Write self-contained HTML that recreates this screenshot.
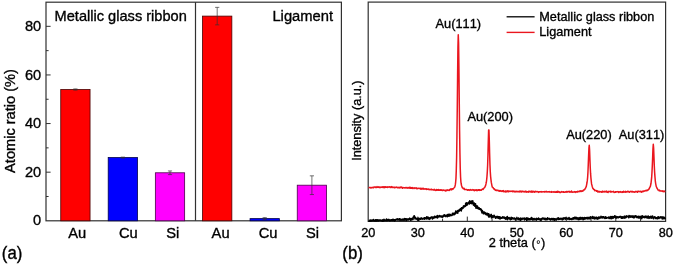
<!DOCTYPE html>
<html><head><meta charset="utf-8"><title>Figure</title>
<style>html,body{margin:0;padding:0;background:#fff}svg{display:block}text{font-family:"Liberation Sans", sans-serif;stroke:#000;stroke-width:0.34px;font-kerning:none}</style>
</head><body>
<svg width="675" height="265" viewBox="0 0 675 265" font-family='"Liberation Sans", sans-serif' fill="#000">
<rect x="46.0" y="2.2" width="295.4" height="218.60000000000002" fill="none" stroke="#303030" stroke-width="1.2"/>
<line x1="195.5" y1="2.2" x2="195.5" y2="220.8" stroke="#303030" stroke-width="1.2"/>
<line x1="46.0" y1="196.49" x2="48.6" y2="196.49" stroke="#303030" stroke-width="1"/>
<line x1="46.0" y1="172.18" x2="50.6" y2="172.18" stroke="#303030" stroke-width="1"/>
<line x1="46.0" y1="147.87" x2="48.6" y2="147.87" stroke="#303030" stroke-width="1"/>
<line x1="46.0" y1="123.56" x2="50.6" y2="123.56" stroke="#303030" stroke-width="1"/>
<line x1="46.0" y1="99.25" x2="48.6" y2="99.25" stroke="#303030" stroke-width="1"/>
<line x1="46.0" y1="74.94" x2="50.6" y2="74.94" stroke="#303030" stroke-width="1"/>
<line x1="46.0" y1="50.63" x2="48.6" y2="50.63" stroke="#303030" stroke-width="1"/>
<line x1="46.0" y1="26.32" x2="50.6" y2="26.32" stroke="#303030" stroke-width="1"/>
<text x="41.2" y="225.45" text-anchor="end" font-size="14.6">0</text>
<text x="41.2" y="176.83" text-anchor="end" font-size="14.6">20</text>
<text x="41.2" y="128.21" text-anchor="end" font-size="14.6">40</text>
<text x="41.2" y="79.59" text-anchor="end" font-size="14.6">60</text>
<text x="41.2" y="30.97" text-anchor="end" font-size="14.6">80</text>
<rect x="60.75" y="89.53" width="29.3" height="131.27" fill="#ff0000" stroke="#4a0000" stroke-width="0.8"/>
<path d="M75.40 88.92V90.13M73.30 88.92H77.50M73.30 90.13H77.50" stroke="#333" stroke-opacity="0.85" stroke-width="0.8" fill="none"/>
<rect x="108.20" y="157.59" width="29.3" height="63.21" fill="#0000ff" stroke="#00004a" stroke-width="0.8"/>
<path d="M122.85 157.11V158.08M120.75 157.11H124.95M120.75 158.08H124.95" stroke="#333" stroke-opacity="0.85" stroke-width="0.8" fill="none"/>
<rect x="155.35" y="172.79" width="29.3" height="48.01" fill="#ff00ff" stroke="#4a004a" stroke-width="0.8"/>
<path d="M170.00 170.96V174.61M167.90 170.96H172.10M167.90 174.61H172.10" stroke="#333" stroke-opacity="0.85" stroke-width="0.8" fill="none"/>
<rect x="202.55" y="16.11" width="29.3" height="204.69" fill="#ff0000" stroke="#4a0000" stroke-width="0.8"/>
<path d="M217.20 7.36V24.86M215.10 7.36H219.30M215.10 24.86H219.30" stroke="#333" stroke-opacity="0.85" stroke-width="0.8" fill="none"/>
<rect x="250.05" y="218.61" width="29.3" height="2.19" fill="#0000ff" stroke="#00004a" stroke-width="0.8"/>
<path d="M264.70 217.64V219.58M262.60 217.64H266.80M262.60 219.58H266.80" stroke="#333" stroke-opacity="0.85" stroke-width="0.8" fill="none"/>
<rect x="297.25" y="185.19" width="29.3" height="35.61" fill="#ff00ff" stroke="#4a004a" stroke-width="0.8"/>
<path d="M311.90 175.83V194.55M309.80 175.83H314.00M309.80 194.55H314.00" stroke="#333" stroke-opacity="0.85" stroke-width="0.8" fill="none"/>
<text x="77.30" y="237.9" text-anchor="middle" font-size="14.7">Au</text>
<text x="128.40" y="237.9" text-anchor="middle" font-size="14.7">Cu</text>
<text x="172.80" y="237.9" text-anchor="middle" font-size="14.7">Si</text>
<text x="220.60" y="237.9" text-anchor="middle" font-size="14.7">Au</text>
<text x="268.10" y="237.9" text-anchor="middle" font-size="14.7">Cu</text>
<text x="312.50" y="237.9" text-anchor="middle" font-size="14.7">Si</text>
<text x="54.6" y="20.7" font-size="14.6">Metallic glass ribbon</text>
<text x="333.1" y="20.55" text-anchor="end" font-size="14.75">Ligament</text>
<text transform="translate(15.4 172.9) rotate(-90)" font-size="14.6">Atomic ratio (%)</text>
<text transform="translate(1.8 259.3) scale(1 1.05)" font-size="16.8">(a)</text>
<rect x="368.2" y="2.1" width="297.40000000000003" height="219.3" fill="none" stroke="#303030" stroke-width="1.2"/>
<line x1="393.05" y1="221.4" x2="393.05" y2="218.6" stroke="#303030" stroke-width="1"/>
<line x1="417.80" y1="221.4" x2="417.80" y2="216.6" stroke="#303030" stroke-width="1"/>
<line x1="442.55" y1="221.4" x2="442.55" y2="218.6" stroke="#303030" stroke-width="1"/>
<line x1="467.30" y1="221.4" x2="467.30" y2="216.6" stroke="#303030" stroke-width="1"/>
<line x1="492.05" y1="221.4" x2="492.05" y2="218.6" stroke="#303030" stroke-width="1"/>
<line x1="516.80" y1="221.4" x2="516.80" y2="216.6" stroke="#303030" stroke-width="1"/>
<line x1="541.55" y1="221.4" x2="541.55" y2="218.6" stroke="#303030" stroke-width="1"/>
<line x1="566.30" y1="221.4" x2="566.30" y2="216.6" stroke="#303030" stroke-width="1"/>
<line x1="591.05" y1="221.4" x2="591.05" y2="218.6" stroke="#303030" stroke-width="1"/>
<line x1="615.80" y1="221.4" x2="615.80" y2="216.6" stroke="#303030" stroke-width="1"/>
<line x1="640.55" y1="221.4" x2="640.55" y2="218.6" stroke="#303030" stroke-width="1"/>
<text x="368.30" y="236.5" text-anchor="middle" font-size="12.7">20</text>
<text x="417.80" y="236.5" text-anchor="middle" font-size="12.7">30</text>
<text x="467.30" y="236.5" text-anchor="middle" font-size="12.7">40</text>
<text x="516.80" y="236.5" text-anchor="middle" font-size="12.7">50</text>
<text x="566.30" y="236.5" text-anchor="middle" font-size="12.7">60</text>
<text x="615.80" y="236.5" text-anchor="middle" font-size="12.7">70</text>
<text x="665.80" y="236.5" text-anchor="middle" font-size="12.7">80</text>
<text x="517.0" y="247.3" text-anchor="middle" font-size="12.8">2 theta (<tspan font-size="10.4" dx="0.5" dy="0.4" stroke-width="0.15">°</tspan><tspan dx="0.6" dy="-0.4">)</tspan></text>
<text transform="translate(361.3 160.8) rotate(-90)" font-size="12.7">Intensity (a.u.)</text>
<text transform="translate(342.3 258.8) scale(1 1.05)" font-size="16.8">(b)</text>
<path d="M368.50 220.95L368.75 221.10L369.00 221.10L369.25 220.42L369.50 220.78L369.75 220.54L370.00 220.53L370.25 221.10L370.50 219.95L370.75 220.90L371.00 220.45L371.25 221.03L371.50 220.53L371.75 220.18L372.00 220.56L372.25 220.74L372.50 220.45L372.75 220.63L373.00 220.21L373.25 219.53L373.50 220.79L373.75 220.70L374.00 220.47L374.25 220.43L374.50 220.83L374.75 220.20L375.00 220.09L375.25 220.30L375.50 220.88L375.75 219.78L376.00 220.88L376.25 220.09L376.50 219.88L376.75 220.89L377.00 220.31L377.25 219.78L377.50 220.18L377.75 220.74L378.00 220.84L378.25 220.14L378.50 220.49L378.75 220.62L379.00 220.02L379.25 220.46L379.50 220.28L379.75 220.06L380.00 220.07L380.25 220.31L380.50 220.29L380.75 220.02L381.00 220.08L381.25 220.75L381.50 220.35L381.75 220.64L382.00 220.78L382.25 220.50L382.50 221.10L382.75 219.86L383.00 220.59L383.25 220.08L383.50 221.05L383.75 220.97L384.00 219.32L384.25 219.76L384.50 220.49L384.75 220.55L385.00 220.52L385.25 220.15L385.50 220.38L385.75 220.47L386.00 220.13L386.25 220.63L386.50 219.12L386.75 220.44L387.00 219.67L387.25 220.58L387.50 220.03L387.75 219.72L388.00 220.29L388.25 219.70L388.50 219.69L388.75 219.38L389.00 220.09L389.25 220.32L389.50 220.56L389.75 220.02L390.00 220.57L390.25 220.08L390.50 220.02L390.75 220.32L391.00 220.54L391.25 219.88L391.50 219.91L391.75 219.94L392.00 220.05L392.25 219.58L392.50 220.48L392.75 219.80L393.00 220.20L393.25 219.58L393.50 220.13L393.75 220.14L394.00 219.74L394.25 220.90L394.50 220.10L394.75 220.77L395.00 220.37L395.25 219.58L395.50 219.71L395.75 220.09L396.00 219.90L396.25 219.89L396.50 219.72L396.75 218.97L397.00 219.73L397.25 218.75L397.50 220.00L397.75 219.46L398.00 219.45L398.25 219.69L398.50 219.92L398.75 219.08L399.00 218.91L399.25 219.24L399.50 218.75L399.75 219.27L400.00 220.52L400.25 219.20L400.50 220.04L400.75 219.03L401.00 219.85L401.25 219.53L401.50 219.65L401.75 219.95L402.00 220.54L402.25 219.75L402.50 219.70L402.75 219.15L403.00 219.92L403.25 219.49L403.50 220.02L403.75 219.57L404.00 220.46L404.25 218.58L404.50 219.42L404.75 220.00L405.00 219.37L405.25 219.14L405.50 219.39L405.75 218.82L406.00 219.57L406.25 220.74L406.50 220.07L406.75 218.91L407.00 219.02L407.25 219.25L407.50 219.96L407.75 219.02L408.00 219.07L408.25 219.87L408.50 219.85L408.75 219.20L409.00 218.80L409.25 218.56L409.50 218.99L409.75 218.18L410.00 219.72L410.25 218.98L410.50 219.54L410.75 220.25L411.00 219.87L411.25 218.62L411.50 219.66L411.75 219.78L412.00 218.73L412.25 218.56L412.50 218.93L412.75 218.02L413.00 219.54L413.25 217.11L413.50 217.38L413.75 217.08L414.00 215.97L414.25 215.76L414.50 216.73L414.75 217.44L415.00 218.83L415.25 217.30L415.50 218.70L415.75 218.42L416.00 218.96L416.25 219.04L416.50 218.44L416.75 218.60L417.00 219.37L417.25 219.13L417.50 218.56L417.75 220.03L418.00 220.16L418.25 218.09L418.50 219.04L418.75 220.23L419.00 219.27L419.25 218.94L419.50 218.69L419.75 218.48L420.00 218.65L420.25 218.44L420.50 219.13L420.75 218.48L421.00 218.43L421.25 217.99L421.50 218.61L421.75 218.12L422.00 218.49L422.25 219.15L422.50 218.75L422.75 218.81L423.00 218.70L423.25 218.52L423.50 218.39L423.75 218.26L424.00 218.84L424.25 217.78L424.50 219.13L424.75 218.36L425.00 217.89L425.25 218.02L425.50 217.89L425.75 218.34L426.00 217.82L426.25 218.86L426.50 217.73L426.75 216.84L427.00 217.71L427.25 216.95L427.50 218.06L427.75 218.68L428.00 218.42L428.25 217.23L428.50 217.54L428.75 219.01L429.00 218.13L429.25 217.92L429.50 218.52L429.75 219.32L430.00 218.61L430.25 217.90L430.50 218.00L430.75 218.13L431.00 217.37L431.25 217.08L431.50 217.71L431.75 217.09L432.00 217.59L432.25 217.66L432.50 218.98L432.75 217.03L433.00 217.44L433.25 217.39L433.50 217.72L433.75 218.06L434.00 217.10L434.25 216.87L434.50 216.34L434.75 216.75L435.00 217.61L435.25 217.28L435.50 216.60L435.75 216.96L436.00 217.18L436.25 217.45L436.50 216.74L436.75 216.92L437.00 215.91L437.25 216.29L437.50 217.99L437.75 215.58L438.00 216.70L438.25 217.02L438.50 216.62L438.75 216.31L439.00 216.75L439.25 216.75L439.50 216.67L439.75 215.50L440.00 216.56L440.25 216.07L440.50 216.23L440.75 216.69L441.00 216.92L441.25 217.04L441.50 216.11L441.75 216.99L442.00 217.11L442.25 217.05L442.50 217.18L442.75 216.14L443.00 216.08L443.25 216.69L443.50 215.22L443.75 216.21L444.00 215.68L444.25 215.74L444.50 214.79L444.75 215.30L445.00 215.83L445.25 216.40L445.50 216.44L445.75 215.71L446.00 215.61L446.25 215.15L446.50 215.94L446.75 215.48L447.00 216.01L447.25 216.74L447.50 215.51L447.75 214.49L448.00 214.88L448.25 214.43L448.50 214.56L448.75 216.20L449.00 215.43L449.25 214.19L449.50 215.61L449.75 215.97L450.00 214.81L450.25 214.53L450.50 214.70L450.75 215.06L451.00 215.24L451.25 215.54L451.50 215.49L451.75 215.39L452.00 215.44L452.25 214.86L452.50 213.24L452.75 214.13L453.00 214.35L453.25 213.75L453.50 214.57L453.75 213.56L454.00 213.04L454.25 214.63L454.50 213.95L454.75 213.51L455.00 213.90L455.25 213.87L455.50 213.21L455.75 211.00L456.00 212.17L456.25 212.18L456.50 211.63L456.75 212.36L457.00 212.95L457.25 211.51L457.50 210.84L457.75 213.09L458.00 211.01L458.25 210.22L458.50 211.17L458.75 211.13L459.00 210.04L459.25 211.02L459.50 209.80L459.75 209.25L460.00 209.92L460.25 210.18L460.50 208.82L460.75 209.39L461.00 208.82L461.25 211.00L461.50 207.85L461.75 209.36L462.00 207.93L462.25 207.63L462.50 208.12L462.75 208.03L463.00 208.12L463.25 207.08L463.50 206.04L463.75 205.85L464.00 206.53L464.25 206.36L464.50 206.85L464.75 205.77L465.00 206.11L465.25 206.30L465.50 204.88L465.75 203.19L466.00 203.26L466.25 202.82L466.50 205.38L466.75 202.98L467.00 204.70L467.25 203.95L467.50 204.84L467.75 204.04L468.00 202.89L468.25 202.68L468.50 202.84L468.75 202.83L469.00 202.10L469.25 202.49L469.50 203.97L469.75 200.85L470.00 202.65L470.25 201.56L470.50 202.59L470.75 203.23L471.00 202.43L471.25 203.26L471.50 201.14L471.75 203.72L472.00 202.24L472.25 203.48L472.50 203.20L472.75 200.79L473.00 202.63L473.25 203.68L473.50 205.07L473.75 204.09L474.00 204.25L474.25 202.94L474.50 205.71L474.75 206.25L475.00 204.87L475.25 204.88L475.50 203.87L475.75 206.31L476.00 208.14L476.25 206.63L476.50 207.35L476.75 206.96L477.00 205.89L477.25 208.13L477.50 206.18L477.75 207.30L478.00 207.96L478.25 208.71L478.50 208.57L478.75 208.78L479.00 208.08L479.25 207.89L479.50 209.23L479.75 208.84L480.00 208.60L480.25 208.86L480.50 209.72L480.75 208.86L481.00 209.49L481.25 209.48L481.50 211.12L481.75 211.50L482.00 212.94L482.25 210.44L482.50 211.27L482.75 212.67L483.00 212.00L483.25 212.10L483.50 213.80L483.75 212.45L484.00 212.01L484.25 212.06L484.50 213.44L484.75 213.57L485.00 212.51L485.25 212.94L485.50 214.17L485.75 214.34L486.00 213.61L486.25 214.63L486.50 214.72L486.75 213.20L487.00 214.35L487.25 214.97L487.50 214.39L487.75 213.43L488.00 214.81L488.25 215.61L488.50 216.27L488.75 213.81L489.00 217.14L489.25 214.71L489.50 216.19L489.75 216.45L490.00 216.36L490.25 215.88L490.50 215.09L490.75 216.34L491.00 215.52L491.25 214.41L491.50 217.97L491.75 216.66L492.00 217.44L492.25 215.73L492.50 217.33L492.75 217.46L493.00 217.49L493.25 216.54L493.50 215.84L493.75 216.54L494.00 215.31L494.25 215.68L494.50 216.85L494.75 216.22L495.00 216.78L495.25 216.86L495.50 218.17L495.75 217.82L496.00 217.02L496.25 217.83L496.50 216.64L496.75 216.95L497.00 217.75L497.25 216.46L497.50 217.09L497.75 216.49L498.00 217.40L498.25 218.35L498.50 216.93L498.75 217.56L499.00 216.90L499.25 216.78L499.50 216.76L499.75 218.41L500.00 218.98L500.25 217.88L500.50 217.19L500.75 218.06L501.00 217.47L501.25 218.17L501.50 217.89L501.75 217.91L502.00 218.13L502.25 217.45L502.50 217.58L502.75 216.82L503.00 217.60L503.25 217.05L503.50 217.82L503.75 217.37L504.00 218.01L504.25 218.24L504.50 217.17L504.75 217.54L505.00 217.49L505.25 218.50L505.50 219.08L505.75 218.60L506.00 217.92L506.25 218.99L506.50 217.29L506.75 219.05L507.00 217.83L507.25 216.63L507.50 219.77L507.75 219.17L508.00 217.70L508.25 218.39L508.50 218.19L508.75 218.38L509.00 217.48L509.25 217.95L509.50 218.62L509.75 218.49L510.00 219.05L510.25 218.43L510.50 219.73L510.75 217.99L511.00 218.56L511.25 217.33L511.50 217.72L511.75 219.19L512.00 217.91L512.25 218.76L512.50 218.43L512.75 217.89L513.00 218.29L513.25 218.20L513.50 218.23L513.75 218.94L514.00 218.89L514.25 218.20L514.50 218.03L514.75 218.70L515.00 218.50L515.25 219.14L515.50 220.06L515.75 219.05L516.00 218.57L516.25 218.50L516.50 218.13L516.75 218.11L517.00 218.06L517.25 218.41L517.50 218.40L517.75 219.06L518.00 218.43L518.25 218.55L518.50 217.99L518.75 219.59L519.00 218.97L519.25 219.68L519.50 219.14L519.75 219.53L520.00 218.58L520.25 219.12L520.50 220.22L520.75 218.06L521.00 219.39L521.25 219.69L521.50 218.99L521.75 219.19L522.00 219.48L522.25 218.41L522.50 219.02L522.75 218.31L523.00 218.42L523.25 218.46L523.50 218.73L523.75 218.90L524.00 219.08L524.25 218.04L524.50 219.95L524.75 219.50L525.00 219.26L525.25 218.66L525.50 218.82L525.75 219.18L526.00 219.11L526.25 217.95L526.50 219.31L526.75 220.53L527.00 217.88L527.25 219.47L527.50 219.13L527.75 218.87L528.00 219.70L528.25 218.28L528.50 219.04L528.75 219.77L529.00 218.85L529.25 218.74L529.50 219.04L529.75 218.73L530.00 219.84L530.25 218.49L530.50 219.47L530.75 218.30L531.00 219.36L531.25 218.94L531.50 217.57L531.75 218.99L532.00 218.41L532.25 218.76L532.50 219.85L532.75 218.39L533.00 218.42L533.25 219.80L533.50 219.07L533.75 219.86L534.00 219.19L534.25 218.53L534.50 218.98L534.75 219.70L535.00 219.54L535.25 219.02L535.50 219.05L535.75 218.96L536.00 218.70L536.25 220.09L536.50 219.03L536.75 218.40L537.00 218.76L537.25 219.43L537.50 219.38L537.75 218.96L538.00 218.66L538.25 219.05L538.50 218.11L538.75 218.32L539.00 219.48L539.25 218.77L539.50 219.25L539.75 219.71L540.00 219.40L540.25 219.05L540.50 220.22L540.75 219.41L541.00 218.85L541.25 219.45L541.50 219.27L541.75 218.58L542.00 219.09L542.25 218.96L542.50 217.97L542.75 218.96L543.00 218.90L543.25 218.81L543.50 218.15L543.75 218.86L544.00 219.04L544.25 219.12L544.50 218.44L544.75 219.41L545.00 218.39L545.25 218.94L545.50 219.78L545.75 218.68L546.00 218.78L546.25 219.66L546.50 218.86L546.75 218.91L547.00 219.19L547.25 219.65L547.50 217.86L547.75 218.62L548.00 218.52L548.25 218.48L548.50 218.60L548.75 218.61L549.00 219.24L549.25 218.59L549.50 219.14L549.75 219.30L550.00 218.68L550.25 219.15L550.50 219.98L550.75 219.26L551.00 218.73L551.25 219.05L551.50 218.58L551.75 219.23L552.00 219.56L552.25 218.64L552.50 218.97L552.75 219.69L553.00 218.82L553.25 219.19L553.50 218.53L553.75 218.64L554.00 218.81L554.25 220.25L554.50 218.87L554.75 218.81L555.00 218.79L555.25 219.00L555.50 219.43L555.75 219.17L556.00 220.17L556.25 219.17L556.50 219.83L556.75 219.20L557.00 219.37L557.25 218.26L557.50 218.96L557.75 218.98L558.00 218.88L558.25 217.85L558.50 219.48L558.75 218.79L559.00 218.75L559.25 218.85L559.50 218.85L559.75 219.19L560.00 218.28L560.25 218.45L560.50 219.11L560.75 219.02L561.00 218.73L561.25 218.62L561.50 218.47L561.75 218.89L562.00 219.55L562.25 218.33L562.50 219.73L562.75 219.35L563.00 218.64L563.25 219.31L563.50 218.07L563.75 217.92L564.00 218.16L564.25 218.63L564.50 218.67L564.75 218.56L565.00 218.89L565.25 217.66L565.50 219.09L565.75 218.04L566.00 218.44L566.25 218.57L566.50 218.16L566.75 218.03L567.00 218.23L567.25 218.77L567.50 219.09L567.75 219.07L568.00 218.21L568.25 218.31L568.50 218.23L568.75 218.98L569.00 217.60L569.25 219.41L569.50 218.45L569.75 218.27L570.00 218.89L570.25 219.27L570.50 218.88L570.75 219.27L571.00 218.75L571.25 219.35L571.50 219.35L571.75 218.60L572.00 219.45L572.25 218.73L572.50 218.68L572.75 218.12L573.00 218.46L573.25 219.05L573.50 217.88L573.75 218.97L574.00 218.79L574.25 218.74L574.50 217.35L574.75 218.52L575.00 218.93L575.25 218.13L575.50 218.61L575.75 217.21L576.00 218.92L576.25 218.16L576.50 219.02L576.75 217.49L577.00 218.91L577.25 218.38L577.50 218.96L577.75 217.97L578.00 218.14L578.25 219.75L578.50 218.01L578.75 218.07L579.00 218.31L579.25 217.88L579.50 219.12L579.75 219.42L580.00 218.04L580.25 217.45L580.50 219.08L580.75 219.04L581.00 218.86L581.25 219.04L581.50 217.88L581.75 218.27L582.00 217.57L582.25 217.54L582.50 218.90L582.75 217.94L583.00 219.62L583.25 218.35L583.50 217.93L583.75 218.75L584.00 219.31L584.25 218.55L584.50 217.56L584.75 218.46L585.00 219.03L585.25 217.95L585.50 217.78L585.75 218.80L586.00 218.28L586.25 217.56L586.50 217.96L586.75 217.74L587.00 218.33L587.25 218.22L587.50 218.81L587.75 218.54L588.00 217.22L588.25 218.35L588.50 218.63L588.75 218.36L589.00 218.68L589.25 217.76L589.50 217.51L589.75 218.60L590.00 217.42L590.25 216.78L590.50 218.62L590.75 217.59L591.00 217.83L591.25 217.18L591.50 217.21L591.75 217.30L592.00 217.76L592.25 218.17L592.50 216.60L592.75 218.38L593.00 217.23L593.25 217.29L593.50 218.31L593.75 217.85L594.00 216.98L594.25 218.97L594.50 217.36L594.75 218.01L595.00 217.97L595.25 218.67L595.50 217.56L595.75 218.42L596.00 217.37L596.25 218.47L596.50 217.34L596.75 217.57L597.00 218.90L597.25 217.95L597.50 217.82L597.75 219.08L598.00 217.95L598.25 217.24L598.50 218.15L598.75 217.00L599.00 218.37L599.25 218.40L599.50 217.33L599.75 217.29L600.00 217.76L600.25 217.65L600.50 217.05L600.75 217.97L601.00 216.40L601.25 217.35L601.50 217.36L601.75 217.43L602.00 217.77L602.25 216.84L602.50 217.93L602.75 217.46L603.00 217.16L603.25 216.72L603.50 216.83L603.75 217.75L604.00 216.94L604.25 217.55L604.50 218.15L604.75 218.12L605.00 218.43L605.25 217.30L605.50 216.82L605.75 218.08L606.00 217.65L606.25 218.13L606.50 217.45L606.75 218.16L607.00 217.94L607.25 217.85L607.50 217.71L607.75 217.64L608.00 217.53L608.25 217.52L608.50 217.98L608.75 217.06L609.00 218.42L609.25 217.29L609.50 217.94L609.75 217.28L610.00 217.18L610.25 218.56L610.50 217.12L610.75 216.52L611.00 216.86L611.25 217.09L611.50 218.60L611.75 217.40L612.00 217.83L612.25 216.64L612.50 217.46L612.75 217.65L613.00 218.34L613.25 216.79L613.50 217.58L613.75 217.39L614.00 216.57L614.25 217.18L614.50 217.02L614.75 215.74L615.00 217.53L615.25 217.49L615.50 216.88L615.75 216.31L616.00 218.04L616.25 217.29L616.50 217.74L616.75 217.98L617.00 216.77L617.25 217.59L617.50 216.93L617.75 217.03L618.00 217.01L618.25 217.06L618.50 217.74L618.75 217.12L619.00 216.94L619.25 216.85L619.50 217.23L619.75 216.45L620.00 216.69L620.25 216.96L620.50 216.63L620.75 216.90L621.00 216.58L621.25 218.21L621.50 217.78L621.75 217.22L622.00 216.90L622.25 218.29L622.50 217.12L622.75 216.85L623.00 217.09L623.25 217.08L623.50 217.77L623.75 216.86L624.00 218.18L624.25 216.31L624.50 217.29L624.75 216.21L625.00 217.98L625.25 216.62L625.50 216.78L625.75 217.39L626.00 217.59L626.25 216.09L626.50 216.57L626.75 215.90L627.00 216.85L627.25 216.70L627.50 216.53L627.75 216.31L628.00 216.49L628.25 216.26L628.50 217.05L628.75 217.67L629.00 215.48L629.25 216.62L629.50 216.42L629.75 216.99L630.00 216.07L630.25 216.58L630.50 216.03L630.75 217.13L631.00 216.76L631.25 216.61L631.50 216.95L631.75 216.57L632.00 215.75L632.25 217.11L632.50 216.93L632.75 216.66L633.00 217.38L633.25 217.54L633.50 216.09L633.75 216.29L634.00 217.77L634.25 217.69L634.50 216.34L634.75 216.07L635.00 216.42L635.25 216.52L635.50 215.84L635.75 216.86L636.00 216.05L636.25 216.10L636.50 217.44L636.75 216.45L637.00 216.84L637.25 217.28L637.50 217.41L637.75 216.69L638.00 216.94L638.25 216.40L638.50 218.02L638.75 217.34L639.00 216.25L639.25 216.95L639.50 217.40L639.75 217.26L640.00 218.11L640.25 217.84L640.50 216.65L640.75 216.94L641.00 216.21L641.25 217.17L641.50 217.11L641.75 218.71L642.00 217.09L642.25 215.74L642.50 216.63L642.75 217.13L643.00 216.28L643.25 216.53L643.50 216.85L643.75 217.30L644.00 216.99L644.25 216.55L644.50 217.60L644.75 216.78L645.00 216.82L645.25 216.28L645.50 216.65L645.75 217.55L646.00 216.16L646.25 217.12L646.50 217.61L646.75 216.95L647.00 217.33L647.25 216.50L647.50 218.01L647.75 217.89L648.00 217.36L648.25 216.14L648.50 216.59L648.75 217.84L649.00 218.30L649.25 217.44L649.50 218.03L649.75 216.90L650.00 217.16L650.25 217.29L650.50 217.56L650.75 216.37L651.00 217.89L651.25 218.14L651.50 216.64L651.75 216.53L652.00 217.58L652.25 216.98L652.50 215.94L652.75 217.89L653.00 217.50L653.25 217.13L653.50 218.71L653.75 217.53L654.00 217.00L654.25 217.52L654.50 216.84L654.75 217.02L655.00 217.73L655.25 217.17L655.50 217.25L655.75 218.54L656.00 218.06L656.25 218.03L656.50 217.88L656.75 217.86L657.00 218.46L657.25 217.58L657.50 218.72L657.75 217.05L658.00 217.47L658.25 216.81L658.50 217.44L658.75 217.97L659.00 218.54L659.25 217.29L659.50 217.70L659.75 217.49L660.00 217.28L660.25 217.02L660.50 217.77L660.75 216.72L661.00 217.83L661.25 217.78L661.50 217.39L661.75 217.19L662.00 216.98L662.25 218.92L662.50 217.03L662.75 218.76L663.00 218.20L663.25 217.64L663.50 217.19L663.75 218.50L664.00 218.91L664.25 217.35L664.50 217.74L664.75 218.54L665.00 218.13L665.25 219.12" fill="none" stroke="#000" stroke-width="1.6" stroke-linejoin="round"/>
<path d="M368.50 187.77L368.83 187.84L369.16 187.66L369.49 187.46L369.82 187.57L370.15 187.40L370.48 187.70L370.81 188.07L371.14 187.51L371.47 187.45L371.80 187.77L372.13 187.72L372.46 187.63L372.79 187.31L373.12 187.56L373.45 187.76L373.78 187.14L374.11 187.39L374.44 186.94L374.77 187.11L375.10 186.93L375.43 187.40L375.76 187.08L376.09 187.53L376.42 187.48L376.75 187.36L377.08 186.65L377.41 187.23L377.74 187.36L378.07 187.39L378.40 186.89L378.73 187.19L379.06 187.02L379.39 187.06L379.72 187.61L380.05 187.03L380.38 187.25L380.71 187.51L381.04 187.06L381.37 187.19L381.70 187.24L382.03 187.21L382.36 186.81L382.69 187.19L383.02 187.56L383.35 186.67L383.68 187.38L384.01 187.14L384.34 186.90L384.67 187.68L385.00 187.29L385.33 186.69L385.66 187.06L385.99 187.20L386.32 186.95L386.65 187.20L386.98 186.96L387.31 187.20L387.64 187.44L387.97 186.82L388.30 187.10L388.63 186.91L388.96 187.11L389.29 186.73L389.62 186.92L389.95 187.05L390.28 187.40L390.61 187.48L390.94 186.76L391.27 186.93L391.60 187.38L391.93 186.60L392.26 187.08L392.59 187.20L392.92 187.62L393.25 187.46L393.58 187.17L393.91 187.18L394.24 187.23L394.57 187.77L394.90 187.20L395.23 187.25L395.56 187.47L395.89 187.34L396.22 187.33L396.55 187.07L396.88 187.42L397.21 187.30L397.54 187.80L397.87 187.66L398.20 187.47L398.53 187.69L398.86 187.40L399.19 187.84L399.52 187.53L399.85 187.72L400.18 187.18L400.51 187.68L400.84 187.09L401.17 187.00L401.50 187.53L401.83 187.37L402.16 187.70L402.49 188.34L402.82 187.43L403.15 187.51L403.48 187.77L403.81 187.87L404.14 187.69L404.47 187.69L404.80 187.98L405.13 187.94L405.46 187.49L405.79 187.79L406.12 187.84L406.45 187.52L406.78 187.93L407.11 187.61L407.44 188.17L407.77 187.96L408.10 187.94L408.43 187.75L408.76 187.91L409.09 187.36L409.42 187.63L409.75 188.09L410.08 187.36L410.41 188.27L410.74 187.50L411.07 188.27L411.40 187.80L411.73 188.30L412.06 188.12L412.39 187.64L412.72 188.49L413.05 188.56L413.38 188.12L413.71 188.07L414.04 188.12L414.37 187.89L414.70 188.53L415.03 188.05L415.36 188.21L415.69 188.00L416.02 188.07L416.35 187.90L416.68 188.69L417.01 188.29L417.34 188.66L417.67 188.40L418.00 188.22L418.33 188.35L418.66 188.31L418.99 188.51L419.32 188.42L419.65 188.47L419.98 188.18L420.31 188.38L420.64 189.14L420.97 188.47L421.30 188.38L421.63 188.83L421.96 189.18L422.29 188.35L422.62 188.75L422.95 188.65L423.28 188.34L423.61 189.11L423.94 188.91L424.27 188.97L424.60 188.75L424.93 189.14L425.26 188.87L425.59 189.01L425.92 188.75L426.25 188.75L426.58 189.54L426.91 189.01L427.24 189.28L427.57 189.21L427.90 189.11L428.23 189.12L428.56 189.49L428.89 189.24L429.22 189.31L429.55 189.39L429.88 189.76L430.21 189.64L430.54 189.58L430.87 189.32L431.20 189.10L431.53 189.83L431.86 189.86L432.19 189.55L432.52 189.78L432.85 189.88L433.18 189.92L433.51 189.97L433.84 189.59L434.17 190.20L434.50 189.40L434.83 190.06L435.16 189.97L435.49 190.11L435.82 190.44L436.15 190.35L436.48 189.58L436.81 189.44L437.14 190.22L437.47 189.69L437.80 190.02L438.13 190.30L438.46 189.58L438.79 189.46L439.12 190.19L439.45 190.15L439.78 190.09L440.11 190.20L440.44 189.95L440.77 189.77L441.10 190.20L441.43 189.98L441.76 189.80L442.09 190.46L442.42 190.31L442.75 190.47L443.08 190.07L443.41 190.19L443.74 190.10L444.07 190.15L444.40 190.49L444.73 190.21L445.06 190.56L445.39 190.54L445.72 191.02L446.05 189.97L446.38 190.63L446.71 190.31L447.04 190.31L447.37 189.85L447.70 190.11L448.03 190.44L448.36 190.15L448.69 190.16L449.02 190.00L449.35 190.38L449.68 189.97L450.01 189.26L450.34 189.64L450.67 189.18L451.00 188.71L451.33 189.43L451.66 189.87L451.99 189.36L452.32 188.84L452.65 188.73L452.98 189.15L453.31 188.61L453.64 188.28L453.97 187.89L454.30 187.47L454.63 187.12L454.96 186.24L455.29 184.89L455.62 182.32L455.95 178.64L456.28 170.56L456.61 157.65L456.94 136.03L457.27 108.09L457.60 75.95L457.93 47.29L458.26 34.76L458.59 43.08L458.92 68.20L459.25 100.67L459.58 130.24L459.91 152.14L460.24 168.12L460.57 176.93L460.90 181.79L461.23 183.99L461.56 185.64L461.89 186.54L462.22 187.56L462.55 187.77L462.88 188.03L463.21 188.79L463.54 188.41L463.87 188.67L464.20 188.41L464.53 189.57L464.86 189.51L465.19 189.60L465.52 189.62L465.85 189.53L466.18 189.63L466.51 189.54L466.84 189.61L467.17 189.73L467.50 190.21L467.83 189.96L468.16 189.80L468.49 189.67L468.82 189.68L469.15 190.37L469.48 190.06L469.81 189.94L470.14 189.83L470.47 189.63L470.80 189.96L471.13 190.27L471.46 189.91L471.79 189.97L472.12 189.99L472.45 190.11L472.78 189.61L473.11 190.03L473.44 189.85L473.77 190.38L474.10 189.90L474.43 190.31L474.76 190.59L475.09 190.05L475.42 189.96L475.75 190.20L476.08 190.14L476.41 189.84L476.74 190.27L477.07 190.73L477.40 190.04L477.73 190.04L478.06 189.77L478.39 190.16L478.72 189.67L479.05 189.69L479.38 190.37L479.71 189.68L480.04 190.23L480.37 190.32L480.70 189.88L481.03 189.90L481.36 190.25L481.69 189.51L482.02 189.29L482.35 188.94L482.68 189.21L483.01 189.47L483.34 189.11L483.67 188.29L484.00 188.02L484.33 187.76L484.66 187.55L484.99 186.83L485.32 186.23L485.65 185.31L485.98 183.88L486.31 182.27L486.64 180.01L486.97 176.60L487.30 171.92L487.63 165.19L487.96 154.56L488.29 141.46L488.62 130.01L488.95 130.06L489.28 139.70L489.61 152.93L489.94 164.18L490.27 171.55L490.60 176.34L490.93 179.34L491.26 182.18L491.59 183.84L491.92 185.54L492.25 187.02L492.58 187.18L492.91 187.48L493.24 187.85L493.57 188.59L493.90 188.88L494.23 188.86L494.56 189.48L494.89 189.29L495.22 190.15L495.55 190.28L495.88 190.42L496.21 190.07L496.54 190.47L496.87 190.37L497.20 190.37L497.53 190.46L497.86 190.24L498.19 190.26L498.52 190.99L498.85 190.75L499.18 190.92L499.51 191.20L499.84 190.43L500.17 190.75L500.50 191.06L500.83 191.16L501.16 190.95L501.49 191.40L501.82 191.18L502.15 190.77L502.48 190.88L502.81 191.42L503.14 191.33L503.47 190.64L503.80 191.63L504.13 191.42L504.46 191.66L504.79 191.16L505.12 191.20L505.45 190.96L505.78 192.07L506.11 191.27L506.44 191.81L506.77 191.15L507.10 191.41L507.43 190.87L507.76 191.26L508.09 191.68L508.42 191.02L508.75 191.73L509.08 191.52L509.41 191.11L509.74 191.28L510.07 191.30L510.40 191.43L510.73 191.29L511.06 191.21L511.39 191.38L511.72 191.17L512.05 191.10L512.38 191.48L512.71 191.76L513.04 191.05L513.37 191.51L513.70 191.32L514.03 191.23L514.36 191.79L514.69 191.38L515.02 191.99L515.35 191.31L515.68 191.67L516.01 191.49L516.34 191.34L516.67 191.75L517.00 191.53L517.33 191.76L517.66 191.57L517.99 191.27L518.32 191.57L518.65 191.62L518.98 191.90L519.31 191.34L519.64 191.61L519.97 191.11L520.30 191.82L520.63 191.31L520.96 191.10L521.29 191.63L521.62 191.98L521.95 191.20L522.28 191.33L522.61 191.44L522.94 191.33L523.27 191.79L523.60 191.43L523.93 191.46L524.26 191.86L524.59 191.46L524.92 191.82L525.25 191.41L525.58 191.34L525.91 191.16L526.24 192.27L526.57 191.62L526.90 191.79L527.23 191.72L527.56 191.78L527.89 191.75L528.22 192.31L528.55 191.43L528.88 191.28L529.21 191.45L529.54 191.35L529.87 191.98L530.20 192.01L530.53 191.48L530.86 191.35L531.19 191.67L531.52 192.20L531.85 190.94L532.18 191.94L532.51 191.47L532.84 192.11L533.17 191.47L533.50 191.72L533.83 191.35L534.16 191.52L534.49 192.23L534.82 192.06L535.15 191.70L535.48 191.56L535.81 191.26L536.14 191.71L536.47 191.83L536.80 191.82L537.13 191.82L537.46 191.51L537.79 191.83L538.12 191.84L538.45 192.25L538.78 192.42L539.11 191.83L539.44 191.64L539.77 191.85L540.10 191.70L540.43 191.66L540.76 191.87L541.09 191.58L541.42 192.07L541.75 191.86L542.08 191.97L542.41 191.85L542.74 191.69L543.07 191.63L543.40 191.84L543.73 191.75L544.06 191.99L544.39 191.92L544.72 191.52L545.05 191.95L545.38 191.53L545.71 191.75L546.04 191.85L546.37 191.32L546.70 191.97L547.03 192.00L547.36 191.91L547.69 191.83L548.02 191.85L548.35 191.67L548.68 191.89L549.01 191.80L549.34 192.00L549.67 191.62L550.00 192.05L550.33 192.03L550.66 191.94L550.99 191.86L551.32 192.16L551.65 191.50L551.98 192.14L552.31 192.07L552.64 192.09L552.97 192.12L553.30 191.81L553.63 191.94L553.96 192.21L554.29 192.15L554.62 192.08L554.95 191.57L555.28 192.19L555.61 192.37L555.94 192.32L556.27 192.09L556.60 191.55L556.93 192.30L557.26 191.97L557.59 191.25L557.92 192.13L558.25 191.56L558.58 191.62L558.91 191.82L559.24 192.39L559.57 191.89L559.90 192.08L560.23 192.52L560.56 192.48L560.89 191.97L561.22 191.92L561.55 191.61L561.88 191.78L562.21 192.12L562.54 192.10L562.87 192.02L563.20 192.28L563.53 191.75L563.86 191.96L564.19 192.19L564.52 192.14L564.85 192.29L565.18 192.08L565.51 191.87L565.84 192.07L566.17 191.65L566.50 191.46L566.83 192.12L567.16 191.93L567.49 192.03L567.82 191.42L568.15 191.82L568.48 191.74L568.81 191.66L569.14 191.24L569.47 191.81L569.80 192.17L570.13 192.01L570.46 191.71L570.79 191.88L571.12 192.11L571.45 191.04L571.78 191.83L572.11 192.02L572.44 192.05L572.77 192.35L573.10 192.17L573.43 191.92L573.76 191.90L574.09 192.04L574.42 191.63L574.75 191.76L575.08 192.04L575.41 192.34L575.74 191.69L576.07 191.70L576.40 191.76L576.73 192.08L577.06 191.65L577.39 192.08L577.72 191.33L578.05 191.53L578.38 191.50L578.71 191.77L579.04 191.81L579.37 191.01L579.70 191.14L580.03 191.47L580.36 191.12L580.69 190.81L581.02 191.51L581.35 191.28L581.68 191.20L582.01 190.82L582.34 191.17L582.67 190.67L583.00 190.93L583.33 190.17L583.66 189.99L583.99 190.09L584.32 189.55L584.65 189.64L584.98 189.12L585.31 188.27L585.64 187.96L585.97 187.04L586.30 186.39L586.63 184.56L586.96 182.76L587.29 180.68L587.62 177.35L587.95 172.11L588.28 164.39L588.61 155.59L588.94 147.97L589.27 145.18L589.60 150.22L589.93 159.43L590.26 167.79L590.59 173.67L590.92 177.88L591.25 181.08L591.58 183.95L591.91 185.14L592.24 186.53L592.57 187.56L592.90 188.39L593.23 188.66L593.56 189.35L593.89 189.30L594.22 189.75L594.55 189.80L594.88 190.65L595.21 190.48L595.54 190.42L595.87 190.66L596.20 190.81L596.53 191.19L596.86 190.58L597.19 190.82L597.52 191.09L597.85 192.02L598.18 191.60L598.51 191.33L598.84 191.61L599.17 192.06L599.50 191.40L599.83 191.40L600.16 191.90L600.49 191.71L600.82 191.78L601.15 191.45L601.48 192.20L601.81 192.16L602.14 191.83L602.47 191.88L602.80 191.08L603.13 191.90L603.46 191.66L603.79 191.86L604.12 191.94L604.45 191.65L604.78 191.25L605.11 191.88L605.44 191.55L605.77 191.68L606.10 191.61L606.43 191.69L606.76 191.11L607.09 192.17L607.42 191.89L607.75 192.15L608.08 192.42L608.41 191.84L608.74 191.29L609.07 191.57L609.40 191.48L609.73 191.69L610.06 191.87L610.39 191.25L610.72 191.96L611.05 191.40L611.38 191.95L611.71 191.83L612.04 191.77L612.37 191.84L612.70 191.71L613.03 191.69L613.36 191.37L613.69 191.86L614.02 192.43L614.35 192.47L614.68 192.27L615.01 192.09L615.34 191.68L615.67 192.31L616.00 191.86L616.33 191.86L616.66 191.79L616.99 191.91L617.32 191.75L617.65 191.86L617.98 191.56L618.31 191.77L618.64 192.57L618.97 191.86L619.30 191.81L619.63 192.04L619.96 192.10L620.29 191.55L620.62 191.82L620.95 192.16L621.28 191.96L621.61 191.92L621.94 192.35L622.27 191.67L622.60 191.90L622.93 191.72L623.26 192.32L623.59 191.29L623.92 191.67L624.25 191.71L624.58 192.07L624.91 192.05L625.24 192.29L625.57 191.39L625.90 192.09L626.23 191.77L626.56 191.66L626.89 192.02L627.22 191.58L627.55 191.23L627.88 191.74L628.21 191.40L628.54 191.65L628.87 191.95L629.20 191.93L629.53 192.31L629.86 191.77L630.19 191.37L630.52 191.60L630.85 191.55L631.18 191.46L631.51 191.95L631.84 191.62L632.17 191.22L632.50 192.01L632.83 191.77L633.16 191.90L633.49 191.82L633.82 191.98L634.15 191.79L634.48 192.15L634.81 191.90L635.14 191.88L635.47 191.88L635.80 191.31L636.13 191.69L636.46 191.65L636.79 191.79L637.12 191.31L637.45 192.20L637.78 191.73L638.11 191.32L638.44 191.16L638.77 191.58L639.10 191.62L639.43 191.42L639.76 191.65L640.09 191.41L640.42 191.75L640.75 191.35L641.08 191.54L641.41 191.82L641.74 192.27L642.07 191.17L642.40 191.31L642.73 191.17L643.06 191.62L643.39 191.00L643.72 191.16L644.05 191.25L644.38 190.92L644.71 190.87L645.04 190.95L645.37 190.40L645.70 190.51L646.03 190.73L646.36 190.80L646.69 190.59L647.02 189.97L647.35 190.21L647.68 190.41L648.01 190.12L648.34 189.67L648.67 189.11L649.00 189.19L649.33 188.36L649.66 187.59L649.99 186.95L650.32 186.65L650.65 185.00L650.98 183.54L651.31 180.65L651.64 177.70L651.97 172.44L652.30 165.86L652.63 158.01L652.96 148.78L653.29 144.26L653.62 148.09L653.95 156.80L654.28 165.79L654.61 172.12L654.94 176.65L655.27 180.53L655.60 183.07L655.93 184.87L656.26 186.54L656.59 187.22L656.92 188.13L657.25 188.15L657.58 189.22L657.91 189.97L658.24 189.89L658.57 189.99L658.90 190.18L659.23 190.86L659.56 190.20L659.89 190.58L660.22 190.87L660.55 191.05L660.88 190.79L661.21 191.09L661.54 190.98L661.87 191.16L662.20 191.14L662.53 190.89L662.86 191.27L663.19 191.58L663.52 191.06L663.85 191.31L664.18 191.61L664.51 191.12L664.84 191.52L665.17 191.17" fill="none" stroke="#ea161e" stroke-width="1.5" stroke-linejoin="round"/>
<text x="458.3" y="27.55" text-anchor="middle" font-size="12.8">Au(111)</text>
<text x="490.2" y="120.6" text-anchor="middle" font-size="12.8">Au(200)</text>
<text x="588.9" y="138.9" text-anchor="middle" font-size="12.8">Au(220)</text>
<text x="641.6" y="138.9" text-anchor="middle" font-size="12.8">Au(311)</text>
<line x1="506.6" y1="16.8" x2="534.6" y2="16.8" stroke="#000" stroke-width="1.3"/>
<line x1="506.6" y1="32.4" x2="534.6" y2="32.4" stroke="#ea161e" stroke-width="1.4"/>
<text x="539.3" y="20.8" font-size="12.7">Metallic glass ribbon</text>
<text x="539.3" y="36.4" font-size="12.7">Ligament</text>
</svg>
</body></html>
